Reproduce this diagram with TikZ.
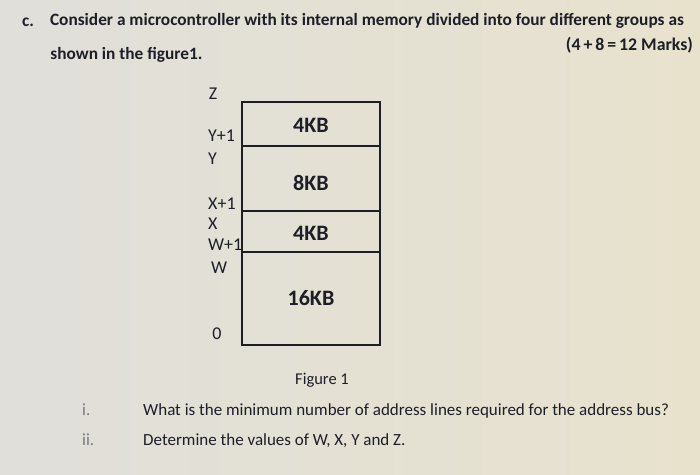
\documentclass[tikz,border=0pt]{standalone}
\usepackage{fontspec}
\setmainfont{Carlito}
\definecolor{ink}{RGB}{30,30,40}
\definecolor{faint}{RGB}{120,120,125}
\definecolor{bgl}{RGB}{224,223,218}
\definecolor{bgr}{RGB}{232,226,205}
\tikzset{
  txt/.style={inner sep=0pt, anchor=mid west, text=ink, font=\fontsize{17}{19}\selectfont},
  hdr/.style={txt, font=\fontsize{17.3}{19}\selectfont\bfseries},
  addr/.style={inner sep=0pt, anchor=mid, text=ink, font=\fontsize{18}{20}\selectfont},
  size/.style={inner sep=0pt, anchor=mid, text=ink, font=\fontsize{22}{24}\selectfont\bfseries},
  memline/.style={draw=ink, line width=2pt}
}
\begin{document}
\begin{tikzpicture}[x=1pt,y=-1pt]
\useasboundingbox (0,0) rectangle (700,474);
\shade[left color=bgl, right color=bgr] (0,0) rectangle (700,474);

\begin{scope}[rotate around={0.6:(350,35)}]
\node[hdr] (c) at (22,21) {c.};
\node[hdr] (l1) at (50,20) {Consider a microcontroller with its internal memory divided into four different groups as};
\node[hdr] (l2) at (50,54) {shown in the figure1.};
\node[hdr, anchor=mid east, font=\fontsize{17.8}{19}\selectfont\bfseries] (marks) at (693,52) {(4\,+\,8\,=\,12 Marks)};
\end{scope}

% memory box
\coordinate (tl) at (242,102);
\coordinate (br) at (380,345);
\draw[memline] (tl) rectangle (br);
\coordinate (a1) at (242,146); \coordinate (b1) at (380,146);
\coordinate (a2) at (242,211); \coordinate (b2) at (380,211);
\coordinate (a3) at (242,252); \coordinate (b3) at (380,252);
\draw[memline] (a1) -- (b1);
\draw[memline] (a2) -- (b2);
\draw[memline] (a3) -- (b3);

\node[size] (s1) at (311,130) {4KB};
\node[size] (s2) at (311,188) {8KB};
\node[size] (s3) at (311,238) {4KB};
\node[size] (s4) at (311,303) {16KB};

\node[addr] (z) at (213,97) {Z};
\node[addr, anchor=mid west] (y1) at (208,139) {Y+1};
\node[addr, anchor=mid west] (y) at (208,162) {Y};
\node[addr, anchor=mid west] (x1) at (208,207) {X+1};
\node[addr, anchor=mid west] (x) at (208,227) {X};
\node[addr, anchor=mid west] (w1) at (208,248) {W+1};
\node[addr, anchor=mid west] (w) at (211,271) {W};
\node[addr] (zero) at (217,337) {0};

\node[txt, anchor=mid, font=\fontsize{16.5}{18}\selectfont] (fig) at (322,382) {Figure 1};
\node[txt, text=faint] (i) at (82,413) {i.};
\node[txt] (q1) at (143,413) {What is the minimum number of address lines required for the address bus?};
\node[txt, text=faint] (ii) at (82,443) {ii.};
\node[txt] (q2) at (143,443) {Determine the values of W, X, Y and Z.};
\end{tikzpicture}
\end{document}
